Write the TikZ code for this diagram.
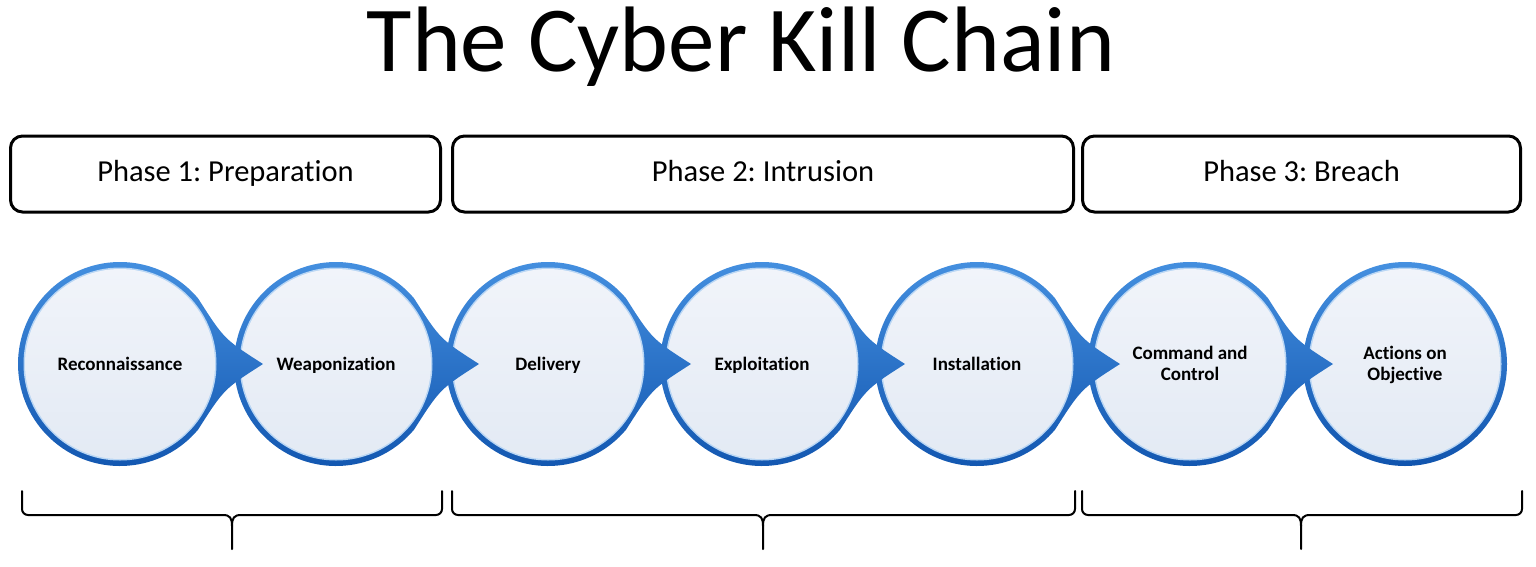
\documentclass[tikz,border=0pt]{standalone}
\usepackage{fontspec}
\setmainfont{Carlito}[Ligatures=NoCommon]
\usepackage{xcolor}
\usetikzlibrary{calc, positioning}
\definecolor{ringlight} {HTML}{4590E0}
\definecolor{ringdark}  {HTML}{1054AE}
\definecolor{ringedge}  {HTML}{B9D6F4}
\definecolor{facetop}   {HTML}{F1F4FA}
\definecolor{facebot}   {HTML}{E3EAF4}

% bottom brace: left x, middle x, right x
\newcommand{\phasebrace}[3]{%
  \draw[bracestyle] (#1,491) [rounded corners=6] -- (#1,515) [sharp corners] -- ($(#2,515)+(-9,0)$)
    .. controls ($(#2,515)+(-2,0)$) and ($(#2,515)+(0,3)$) .. (#2,526) -- (#2,549);
  \draw[bracestyle] (#3,491) [rounded corners=6] -- (#3,515) [sharp corners] -- ($(#2,515)+(9,0)$)
    .. controls ($(#2,515)+(2,0)$) and ($(#2,515)+(0,3)$) .. (#2,526);
}

\begin{document}
\frenchspacing
\begin{tikzpicture}[
    x=1pt, y=-1pt,
    phasebox/.style={draw, line width=3pt, rounded corners=12pt, fill=white,
                     minimum height=76pt, text height=22pt, text depth=7pt,
                     font=\fontsize{30.5}{34}\selectfont},
    stagetext/.style={align=center, font=\fontsize{19}{21}\selectfont\bfseries,
                      execute at begin node=\strut, execute at end node=\strut},
    bracestyle/.style={line width=2pt, line cap=round},
  ]
    \useasboundingbox (0,0) rectangle (1536,566);

    \node[anchor=base, font=\fontsize{93}{96}\selectfont] (title) at (741,71) {The Cyber Kill Chain};

    % phases
    \node[phasebox, minimum width=430pt] (prep)   at (225.5,174) {Phase 1: Preparation};
    \node[phasebox, minimum width=621pt] (intr)   at (763,174)   {Phase 2: Intrusion};
    \node[phasebox, minimum width=438pt] (breach) at (1301.5,174) {Phase 3: Breach};

    % stages, drawn right to left so each tip lies on the next circle
    \foreach \nm/\cx/\lbl/\tip in {
        act/1405/{Actions on\\Objective}/0,
        cc/1190/{Command and\\Control}/1,
        inst/977/Installation/1,
        expl/762/Exploitation/1,
        deliv/548/Delivery/1,
        weap/336/Weaponization/1,
        recon/120/Reconnaissance/1}{
      \coordinate (\nm-c) at (\cx,364);
      \ifnum\tip=1
        \shade[top color=ringlight, bottom color=ringdark]
          ($(\nm-c)+(40:102)$) arc[start angle=40, end angle=320, radius=102]
          .. controls ($(\nm-c)+(104,-25)$) .. ($(\nm-c)+(143,0)$)
          .. controls ($(\nm-c)+(104,25)$) .. cycle;
      \else
        \shade[top color=ringlight, bottom color=ringdark] (\nm-c) circle[radius=102];
      \fi
      \fill[ringedge] (\nm-c) circle[radius=96.5];
      \shade[top color=facetop, bottom color=facebot] (\nm-c) circle[radius=95];
      \node[stagetext] (\nm) at ($(\nm-c)+(0,2)$) {\lbl};
    }

    % braces
    \phasebrace{22}{232}{442}
    \phasebrace{452}{763}{1075}
    \phasebrace{1082}{1301}{1522}
\end{tikzpicture}
\end{document}
